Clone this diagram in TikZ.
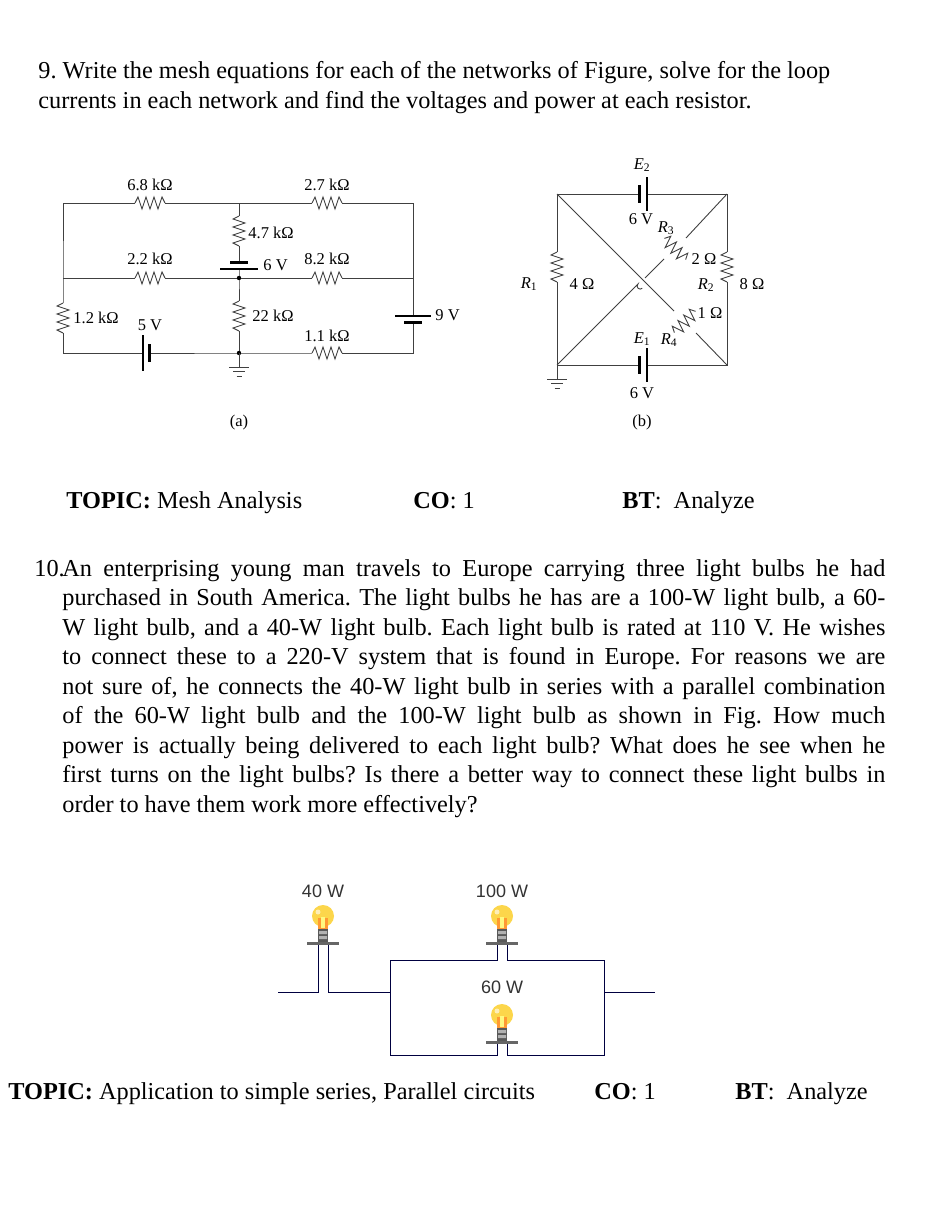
\documentclass[tikz,border=0pt]{standalone}
\usepackage{fontspec}
\setmainfont{Liberation Serif}
\newfontfamily\lsans{Liberation Sans}
\frenchspacing
\begin{document}
\begin{tikzpicture}[x=1pt,y=-1pt,line width=0.8pt,
  wire/.style={draw=black!75,line width=0.9pt},
  lab/.style={font=\fontsize{16.5}{18}\selectfont,inner sep=1pt},
  txt/.style={font=\fontsize{24.3}{29.5}\selectfont,anchor=base west,inner sep=0},
  blab/.style={font=\lsans\fontsize{18}{20}\selectfont,text=black!80},
  res/.pic={\draw[wire] (-15,0)--(-12,-6)--(-8,6)--(-4,-6)--(0,6)--(4,-6)--(8,6)--(12,-6)--(15,0);},
  gnd/.pic={\draw[wire] (0,0)--(0,14) (-10,14)--(10,14) (-6,18.5)--(6,18.5) (-2.5,23)--(2.5,23);},
  bulb/.pic={
    \fill[black!60] (-16,-1.5) rectangle (16,1.5);
    \fill[black!65] (-5,-1.5) rectangle (5,-14);
    \fill[black!30] (-4,-4) rectangle (4,-7) (-4,-9) rectangle (4,-12);
    \fill[yellow!60!orange!70] (0,-27) circle (11);
    \fill[orange!80] (-5,-25) rectangle (5,-14);
    \fill[yellow!50] (-2,-26) rectangle (2,-15);
    \fill[white,opacity=.6] (-5,-31) circle (2.5);
  }]
\useasboundingbox (0,0) rectangle (935,1223);
\fill[white] (0,0) rectangle (935,1223);
% question 9
\node[txt] (q9a) at (38,78) {9. Write the mesh equations for each of the networks of Figure, solve for the loop};
\node[txt] (q9b) at (38,108) {currents in each network and find the voltages and power at each resistor.};
% ===== circuit (a)
\coordinate (TL) at (63,203); \coordinate (TM) at (239,203); \coordinate (TR) at (413,203);
\coordinate (ML) at (63,278); \coordinate (MM) at (239,278); \coordinate (MR) at (413,278);
\coordinate (BL) at (63,353); \coordinate (BM) at (239,353); \coordinate (BR) at (413,353);
\draw[wire] (TL)--(135,203) (165,203)--(312,203) (342,203)--(TR)--(413,316) (413,321)--(BR)--(342,353) (312,353)--(BM)--(149,353) (143,353)--(BL)--(63,333) (63,303)--(ML)--(TL);
\draw[wire] (ML)--(135,278) (165,278)--(312,278) (342,278)--(MR);
\draw[wire] (TM)--(239,216) (239,246)--(239,262) (239,269)--(MM)--(239,301) (239,331)--(BM);
\pic at (150,203) {res}; \pic at (327,203) {res};
\pic at (150,278) {res}; \pic at (327,278) {res};
\pic at (327,353) {res};
\pic[rotate=90] at (239,231) {res}; \pic[rotate=90] at (239,316) {res}; \pic[rotate=90] at (63,318) {res};
% batteries
\draw[line width=1.4pt] (220,269)--(258,269); \draw[line width=3pt] (230,262)--(248,262);
\draw[line width=1.4pt] (395,316)--(431,316); \draw[line width=3pt] (404,322)--(422,322);
\draw[line width=1.4pt] (143,335)--(143,371); \draw[line width=3pt] (149,344)--(149,362);
\fill (MM) circle (2.2); \fill (BM) circle (2.2);
\pic at (BM) {gnd};
\node[lab] at (150,185) {6.8 kΩ};
\node[lab] at (327,185) {2.7 kΩ};
\node[lab,anchor=west] at (247,233) {4.7 kΩ};
\node[lab,anchor=west] at (262,265) {6 V};
\node[lab] at (150,259) {2.2 kΩ};
\node[lab] at (327,259) {8.2 kΩ};
\node[lab,anchor=west] at (72,318) {1.2 kΩ};
\node[lab] at (150,325) {5 V};
\node[lab,anchor=west] at (251,316) {22 kΩ};
\node[lab] at (327,336) {1.1 kΩ};
\node[lab,anchor=west] at (434,315) {9 V};
\node[lab] at (239,423) {(a)};
% ===== circuit (b)
\coordinate (A) at (557,194); \coordinate (B) at (727,194);
\coordinate (C) at (727,365); \coordinate (D) at (557,365);
\draw[wire] (A)--(638,194) (647,194)--(B)--(727,252) (727,282)--(C)--(647,365) (638,365)--(D)--(557,282) (557,252)--(A);
\draw[wire] (A)--(674,311) (696,333)--(C);
\draw[wire] (D)--(638,284) arc[start angle=225,end angle=45,radius=3] (645,278)--(664,259) (686,238)--(B);
\pic[rotate=45] at (685,322) {res};
\pic[rotate=-45] at (675,249) {res};
\pic[rotate=90] at (557,267) {res}; \pic[rotate=90] at (727,267) {res};
\draw[line width=1.4pt] (647,177)--(647,211); \draw[line width=3pt] (639,185)--(639,203);
\draw[line width=1.4pt] (647,348)--(647,382); \draw[line width=3pt] (639,356)--(639,374);
\pic at (D) {gnd};
\node[lab] at (642,165) {\textit{E}\textsubscript{2}};
\node[lab] at (641,219) {6 V};
\node[lab] at (666,228) {\textit{R}\textsubscript{3}};
\node[lab] at (704,259) {2 Ω};
\node[lab] at (529,284) {\textit{R}\textsubscript{1}};
\node[lab] at (582,284) {4 Ω};
\node[lab] at (706,285) {\textit{R}\textsubscript{2}};
\node[lab] at (752,284) {8 Ω};
\node[lab] at (710,313) {1 Ω};
\node[lab] at (642,339) {\textit{E}\textsubscript{1}};
\node[lab] at (669,340) {\textit{R}\textsubscript{4}};
\node[lab] at (642,393) {6 V};
\node[lab] at (642,423) {(b)};
% topic 9
\node[txt] (t1) at (66,508) {\textbf{TOPIC:} Mesh Analysis};
\node[txt] (c1) at (413,508) {\textbf{CO}: 1};
\node[txt] (b1) at (622,508) {\textbf{BT}:\ \ Analyze};
% question 10
\node[txt] (q10n) at (34,576) {10.};
\node[txt,anchor=north west,text width=823pt,align=justify] (q10) at (62,559) {An enterprising young man travels to Europe carrying three light bulbs he had\linebreak
purchased in South America. The light bulbs he has are a 100-W light bulb, a 60-\linebreak
W light bulb, and a 40-W light bulb. Each light bulb is rated at 110 V. He wishes\linebreak
to connect these to a 220-V system that is found in Europe. For reasons we are\linebreak
not sure of, he connects the 40-W light bulb in series with a parallel combination\linebreak
of the 60-W light bulb and the 100-W light bulb as shown in Fig. How much\linebreak
power is actually being delivered to each light bulb? What does he see when he\linebreak
first turns on the light bulbs? Is there a better way to connect these light bulbs in\linebreak
order to have them work more effectively?};
% ===== bulbs
\tikzset{bw/.style={draw=black!75!blue,line width=1pt}}
\draw[bw] (278,992)--(318,992)--(318,943) (328,943)--(328,992)--(390,992);
\draw[bw] (390,960)--(390,1055)--(497,1055)--(497,1042) (507,1042)--(507,1055)--(604,1055)--(604,960)--(507,960)--(507,943) (497,943)--(497,960)--(390,960);
\draw[bw] (604,992)--(655,992);
\pic at (323,943) {bulb}; \pic at (502,943) {bulb}; \pic at (502,1042) {bulb};
\node[blab] at (323,891) {40 W};
\node[blab] at (502,891) {100 W};
\node[blab] at (502,987) {60 W};
% topic 10
\node[txt] (t2) at (8,1099) {\textbf{TOPIC:} Application to simple series, Parallel circuits};
\node[txt] (c2) at (594,1099) {\textbf{CO}: 1};
\node[txt] (b2) at (735,1099) {\textbf{BT}:\ \ Analyze};
\end{tikzpicture}
\end{document}
